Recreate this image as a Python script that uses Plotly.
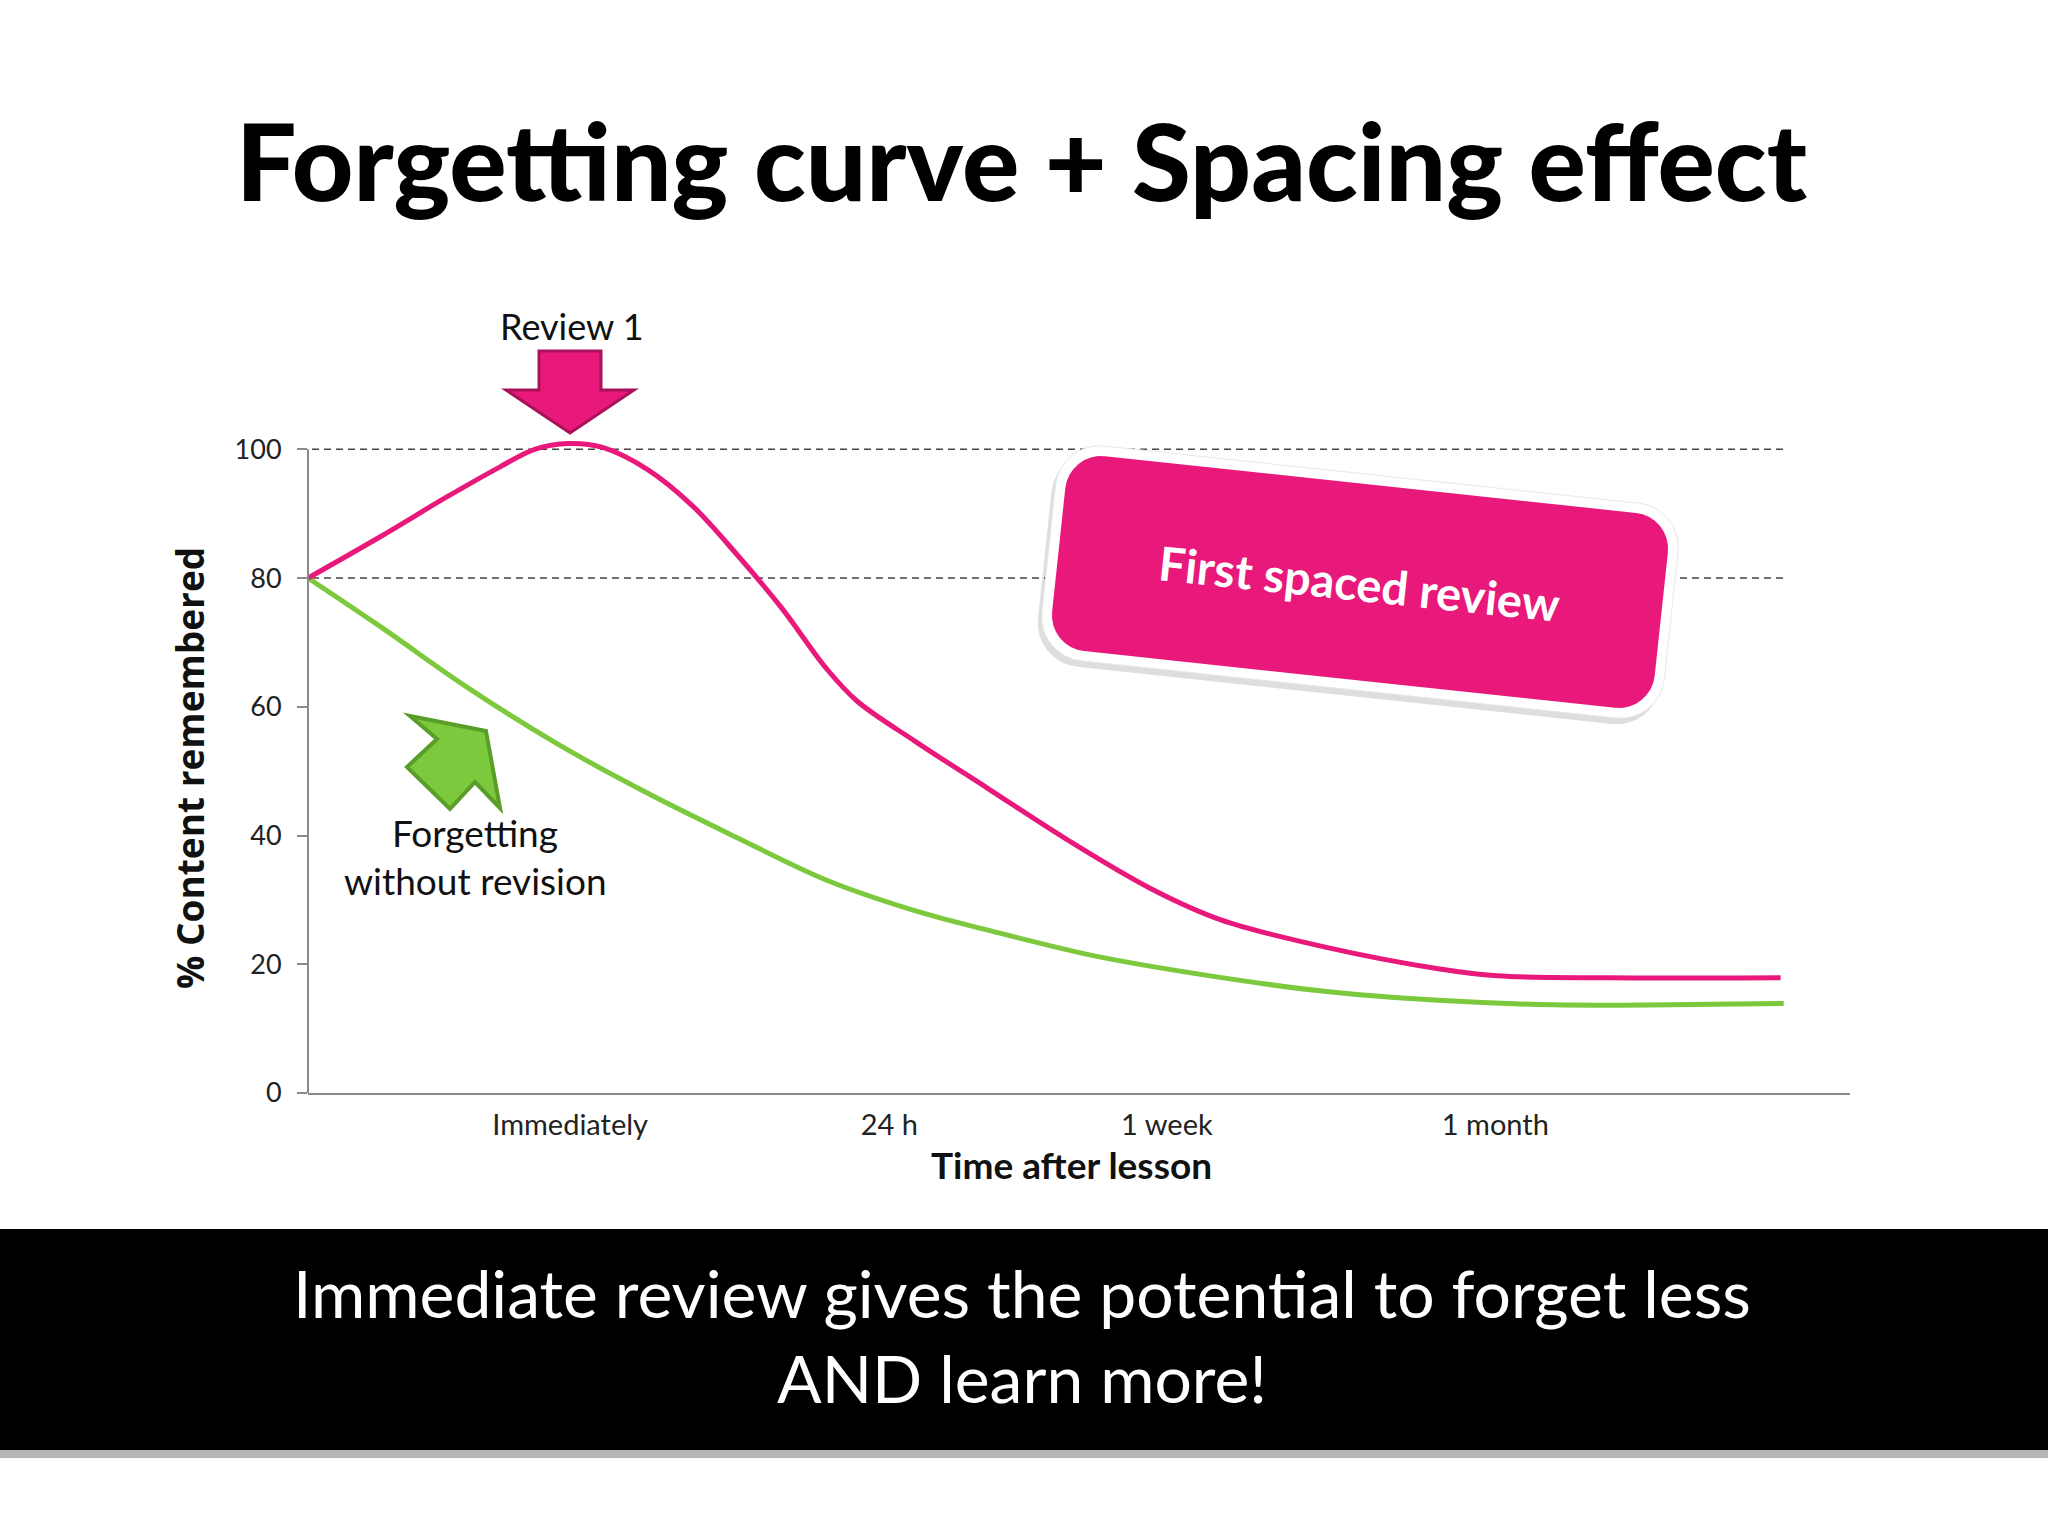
import math
import plotly.graph_objects as go

# data (x: 0 = lesson, 100 = end of axis)
x_review = [0, 4.6, 9.0, 12.4, 14.7, 16.9, 19.1, 22.0, 24.9, 27.8, 30.7, 33.6, 35.6,
            39.4, 44.1, 49.2, 54.7, 59.2, 65.9, 73.3, 77.1, 84.5, 95.5]
y_review = [80, 86.3, 92.6, 97.2, 100, 100.9, 100.3, 96.9, 91.3, 83.7, 75.4, 66.0, 60.9,
            54.6, 47.3, 39.4, 31.7, 26.9, 22.7, 19.3, 18.2, 17.9, 17.9]

x_forget = [0, 4.6, 10.4, 16.2, 22.0, 27.8, 33.6, 39.4, 44.1, 51.0, 58.5, 65.9, 73.3,
            80.8, 88.3, 95.7]
y_forget = [80, 72.6, 62.9, 54.2, 46.6, 39.7, 33.1, 28.3, 25.3, 21.3, 18.2, 15.8, 14.4,
            13.7, 13.7, 13.9]

time_ticks = [17.0, 37.7, 55.7, 77.0]
time_labels = ["Immediately", "24 h", "1 week", "1 month"]
y_ticks = [0, 20, 40, 60, 80, 100]
ref_lines = [100, 80]

PINK = "#E8197A"
PINK_DARK = "#A8125A"
GREEN = "#7CC93D"
GREEN_DARK = "#5A9E2A"

W, H = 2048, 1536
L, R, T, B = 308, 198, 430, 443
PW, PH = W - L - R, H - T - B


def px(X):
    return (X - L) / PW


def py(Y):
    return (H - B - Y) / PH


def poly_path(points):
    pts = [f"{px(x):.5f},{py(y):.5f}" for x, y in points]
    return "M" + " L".join(pts) + " Z"


def rounded_rect(cx, cy, w, h, r, angle_deg, n=8):
    # corners of a rounded rectangle, rotated clockwise on screen
    a = math.radians(angle_deg)
    pts = []
    centers = [(w / 2 - r, -h / 2 + r, -90), (w / 2 - r, h / 2 - r, 0),
               (-w / 2 + r, h / 2 - r, 90), (-w / 2 + r, -h / 2 + r, 180)]
    for ccx, ccy, start in centers:
        for i in range(n + 1):
            t = math.radians(start + 90 * i / n)
            x = ccx + r * math.cos(t)
            y = ccy + r * math.sin(t)
            pts.append((cx + x * math.cos(a) - y * math.sin(a),
                        cy + x * math.sin(a) + y * math.cos(a)))
    return pts


fig = go.Figure()

fig.add_trace(go.Scatter(x=x_forget, y=y_forget, mode="lines",
                         line=dict(color=GREEN, width=5, shape="spline", smoothing=1),
                         hoverinfo="skip", showlegend=False))
fig.add_trace(go.Scatter(x=x_review, y=y_review, mode="lines",
                         line=dict(color=PINK, width=5, shape="spline", smoothing=1),
                         hoverinfo="skip", showlegend=False))

shapes = []
# dashed reference lines
for v in ref_lines:
    shapes.append(dict(type="line", xref="paper", yref="y", x0=px(300), x1=px(1783), y0=v, y1=v,
                       line=dict(color="#444444", width=1.6, dash="7px,5px"), layer="below"))
# y axis line
shapes.append(dict(type="line", xref="paper", yref="y", x0=0, x1=0, y0=0, y1=100,
                   line=dict(color="#8a8a8a", width=2)))

# pink down arrow above the peak
arrow_down = [(539, 351), (601, 351), (601, 390), (634, 390), (570, 433), (506, 390), (539, 390)]
shapes.append(dict(type="path", xref="paper", yref="paper", path=poly_path(arrow_down),
                   fillcolor=PINK, line=dict(color=PINK_DARK, width=3)))

# green arrow pointing up-right
arrow_up = [(486, 731), (500, 808), (475, 782), (450, 809), (407, 767), (437, 739), (410, 716)]
shapes.append(dict(type="path", xref="paper", yref="paper", path=poly_path(arrow_up),
                   fillcolor=GREEN, line=dict(color=GREEN_DARK, width=4)))

# rotated label box with white rim and soft shadow
shapes.append(dict(type="path", xref="paper", yref="paper",
                   path=poly_path(rounded_rect(1356, 588, 626, 216, 44, 6.1)),
                   fillcolor="rgba(0,0,0,0.13)", line=dict(width=0)))
shapes.append(dict(type="path", xref="paper", yref="paper",
                   path=poly_path(rounded_rect(1360, 582, 626, 216, 44, 6.1)),
                   fillcolor="white", line=dict(color="#e8e8e8", width=1)))
shapes.append(dict(type="path", xref="paper", yref="paper",
                   path=poly_path(rounded_rect(1360, 582, 606, 196, 36, 6.1)),
                   fillcolor=PINK, line=dict(width=0)))

# black banner at the bottom
shapes.append(dict(type="rect", xref="paper", yref="paper", x0=px(0), x1=px(W),
                   y0=py(1458), y1=py(1450), fillcolor="#b5b5b5", line=dict(width=0)))
shapes.append(dict(type="rect", xref="paper", yref="paper", x0=px(0), x1=px(W),
                   y0=py(1450), y1=py(1229), fillcolor="black", line=dict(width=0)))

annotations = []


def note(text, X, Y, size, color="#111111", bold=False, angle=0, family="Lato", weight=None):
    f = dict(family=family, size=size, color=color)
    if weight is not None:
        f["weight"] = weight
    elif bold:
        f["weight"] = "bold"
    annotations.append(dict(text=text, xref="paper", yref="paper", x=px(X), y=py(Y),
                            xanchor="center", yanchor="middle", showarrow=False,
                            textangle=angle, font=f))


note("Forgetting curve + Spacing effect", 1022, 160, 107, color="black", weight=900)
note("Review 1", 572, 326, 36)
note("Forgetting", 475, 832, 37)
note("without revision", 475, 880, 37)
note("First spaced review", 1359, 583, 47, color="white", bold=True, angle=6)
note("Time after lesson", 1071, 1164, 37, bold=True)
note("% Content remembered", 189, 768, 37, bold=True, angle=-90, family="Open Sans")
note("Immediate review gives the potential to forget less", 1022, 1292, 66, color="white")
note("AND learn more!", 1022, 1377, 66, color="white")

fig.update_layout(
    width=W, height=H,
    margin=dict(l=L, r=R, t=T, b=B),
    paper_bgcolor="white", plot_bgcolor="white",
    shapes=shapes, annotations=annotations,
    xaxis=dict(range=[0, 100], tickvals=time_ticks, ticktext=time_labels,
               showline=True, linecolor="#8a8a8a", linewidth=2, showgrid=False,
               zeroline=False, ticks="", ticklabelstandoff=5,
               tickfont=dict(family="Lato", size=29, color="#222222")),
    yaxis=dict(range=[0, 103], tickvals=y_ticks, showline=False, showgrid=False,
               zeroline=False, ticks="outside", ticklen=10, tickwidth=2, tickcolor="#8a8a8a",
               ticklabelstandoff=10,
               tickfont=dict(family="Lato", size=27, color="#222222")),
)

fig.write_html("out.html", config={"displayModeBar": False},
               post_script="document.body.style.margin='0';")
